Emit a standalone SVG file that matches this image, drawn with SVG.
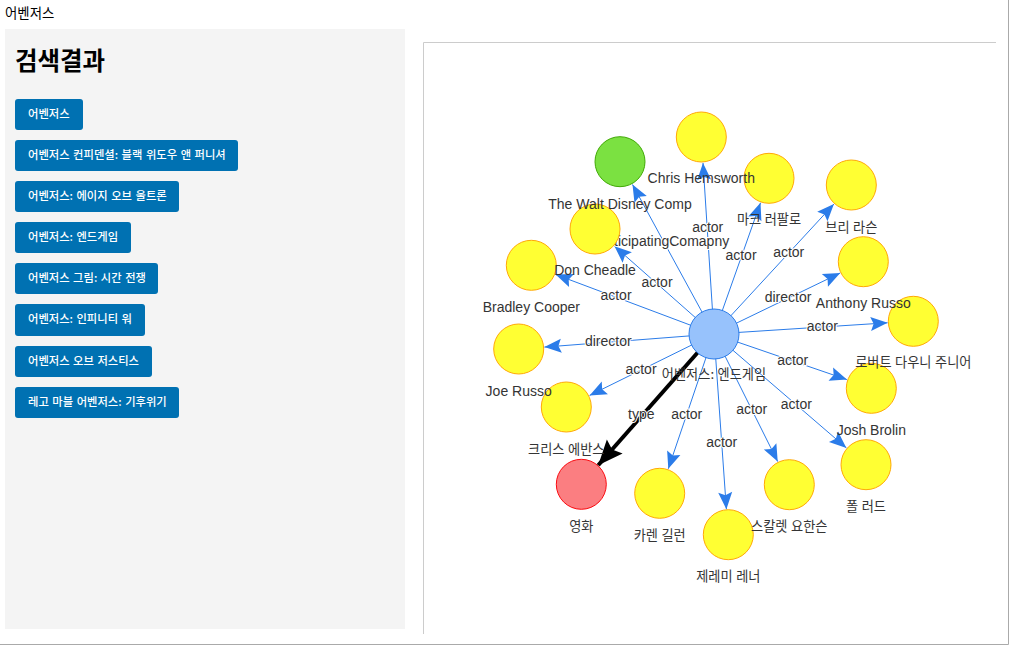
<svg xmlns="http://www.w3.org/2000/svg" width="1013" height="650" viewBox="0 0 1013 650">
<style>
text{font-family:"Liberation Sans","Noto Sans CJK KR",sans-serif}
.kr{font-family:"Noto Sans CJK KR",sans-serif}
.btn{fill:#0071b2}
.bt{font-family:"Noto Sans CJK KR",sans-serif;font-size:11.3px;font-weight:500;fill:#fff;word-spacing:1px}
.e{stroke:#2b7ce9;stroke-width:1;fill:none;marker-end:url(#a)}
.el{font-size:14px;fill:#343434;text-anchor:middle;stroke:#fff;stroke-width:2px;paint-order:stroke;stroke-linejoin:round}
.nl{font-size:14px;fill:#343434;text-anchor:middle}
.nk{font-family:"Noto Sans CJK KR",sans-serif;font-size:13.2px;word-spacing:.6px;fill:#343434;text-anchor:middle}
.y{fill:#ffff33;stroke:#ffa807;stroke-width:1}
</style>
<defs>
<marker id="a" markerUnits="userSpaceOnUse" markerWidth="18" markerHeight="16" refX="17" refY="7" orient="auto" overflow="visible"><path d="M0,0L17,7L0,14L3,7Z" fill="#2b7ce9"/></marker>
<marker id="b" markerUnits="userSpaceOnUse" markerWidth="26" markerHeight="22" refX="25" refY="10.5" orient="auto" overflow="visible"><path d="M0,0L25,10.5L0,21L4,10.5Z" fill="#000"/></marker>
</defs>
<rect width="1013" height="650" fill="#fff"/>
<path d="M1008.5,0V644.5H0" fill="none" stroke="#aaa"/>
<text x="5" y="18" class="kr" font-size="13.4" fill="#000">어벤저스</text>
<rect x="5" y="29" width="400" height="600" fill="#f4f4f4"/>
<text x="15" y="70" class="kr" font-size="24.5" font-weight="700" fill="#000">검색결과</text>
<g id="btn1"><rect class="btn" x="15" y="99" width="68" height="31" rx="3"/><text class="bt" x="28" y="118">어벤저스</text></g>
<g id="btn2"><rect class="btn" x="15" y="140" width="223" height="31" rx="3"/><text class="bt" x="28" y="159">어벤저스 컨피덴셜: 블랙 위도우 앤 퍼니셔</text></g>
<g id="btn3"><rect class="btn" x="15" y="181" width="164" height="31" rx="3"/><text class="bt" x="28" y="200">어벤저스: 에이지 오브 울트론</text></g>
<g id="btn4"><rect class="btn" x="15" y="222" width="116" height="31" rx="3"/><text class="bt" x="28" y="241">어벤저스: 엔드게임</text></g>
<g id="btn5"><rect class="btn" x="15" y="263" width="143" height="31" rx="3"/><text class="bt" x="28" y="282">어벤저스 그림: 시간 전쟁</text></g>
<g id="btn6"><rect class="btn" x="15" y="304" width="130" height="32" rx="3"/><text class="bt" x="28" y="323">어벤저스: 인피니티 워</text></g>
<g id="btn7"><rect class="btn" x="15" y="346" width="137" height="31" rx="3"/><text class="bt" x="28" y="365">어벤저스 오브 저스티스</text></g>
<g id="btn8"><rect class="btn" x="15" y="387" width="164" height="31" rx="3"/><text class="bt" x="28" y="406">레고 마블 어벤저스: 기후위기</text></g>
<path d="M996,42.5H423.5V634" fill="none" stroke="#ccc"/>
<g id="connectors">
<line class="e" x1="714" y1="334" x2="703" y2="162.9"/>
<line class="e" x1="714" y1="334" x2="632.5" y2="184.5"/>
<line class="e" x1="714" y1="334" x2="614.5" y2="246.2"/>
<line class="e" x1="714" y1="334" x2="555.6" y2="274.5"/>
<line class="e" x1="714" y1="334" x2="760.5" y2="202.8"/>
<line class="e" x1="714" y1="334" x2="833.9" y2="204.1"/>
<line class="e" x1="714" y1="334" x2="840.2" y2="273"/>
<line class="e" x1="714" y1="334" x2="887.6" y2="322.8"/>
<line class="e" x1="714" y1="334" x2="846.9" y2="379.6"/>
<line class="e" x1="714" y1="334" x2="846.4" y2="447.9"/>
<line class="e" x1="714" y1="334" x2="777.7" y2="461.6"/>
<line class="e" x1="714" y1="334" x2="726.4" y2="509.2"/>
<line class="e" x1="714" y1="334" x2="668.3" y2="468.8"/>
<line x1="714" y1="334" x2="598.2" y2="465.2" stroke="#000" stroke-width="4" marker-end="url(#b)"/>
<line class="e" x1="714" y1="334" x2="589.6" y2="395.4"/>
<line class="e" x1="714" y1="334" x2="544.4" y2="347.1"/>
<text class="el" x="707.7" y="231.5">actor</text>
<text class="el" x="660.7" y="245.5">ParticipatingComapny</text>
<text class="el" x="657" y="287">actor</text>
<text class="el" x="616" y="300.3">actor</text>
<text class="el" x="741" y="260.3">actor</text>
<text class="el" x="788.7" y="257.3">actor</text>
<text class="el" x="788" y="302.3">director</text>
<text class="el" x="822.3" y="331.3">actor</text>
<text class="el" x="792.7" y="365.3">actor</text>
<text class="el" x="796.3" y="409.3">actor</text>
<text class="el" x="751.7" y="414.3">actor</text>
<text class="el" x="721.7" y="447.3">actor</text>
<text class="el" x="686.7" y="418.7">actor</text>
<text class="el" x="641.3" y="419.3">type</text>
<text class="el" x="641" y="374.3">actor</text>
<text class="el" x="608.3" y="346.3">director</text>
</g>
<g id="n-center"><circle cx="714" cy="334" r="25" fill="#97c2fc" stroke="#2b7ce9"/><text class="nk" x="714" y="379">어벤저스: 엔드게임</text></g>
<g id="n-bradley"><circle class="y" cx="531.3" cy="265.3" r="25"/><text class="nl" x="531.3" y="312">Bradley Cooper</text></g>
<g id="n-cheadle"><circle class="y" cx="595" cy="229" r="25"/><text class="nl" x="595" y="275">Don Cheadle</text></g>
<g id="n-disney"><circle cx="620" cy="161.7" r="25" fill="#7be141" stroke="#41a906"/><text class="nl" x="620" y="209">The Walt Disney Comp</text></g>
<g id="n-ruffalo"><circle class="y" cx="769" cy="178.3" r="25"/><text class="nk" x="769" y="224">마크 러팔로</text></g>
<g id="n-hemsworth"><circle class="y" cx="701.3" cy="137" r="25"/><text class="nl" x="701.3" y="183">Chris Hemsworth</text></g>
<g id="n-larson"><circle class="y" cx="851.3" cy="185" r="25"/><text class="nk" x="851.3" y="232">브리 라슨</text></g>
<g id="n-brolin"><circle class="y" cx="871.3" cy="388.3" r="25"/><text class="nl" x="871.3" y="435">Josh Brolin</text></g>
<g id="n-downey"><circle class="y" cx="913.3" cy="321.3" r="25"/><text class="nk" x="913.3" y="367">로버트 다우니 주니어</text></g>
<g id="n-arusso"><circle class="y" cx="863.3" cy="261.7" r="25"/><text class="nl" x="863.3" y="308">Anthony Russo</text></g>
<g id="n-rudd"><circle class="y" cx="866" cy="464.7" r="25"/><text class="nk" x="866" y="511">폴 러드</text></g>
<g id="n-renner"><circle class="y" cx="728.3" cy="534.7" r="25"/><text class="nk" x="728.3" y="581">제레미 레너</text></g>
<g id="n-johansson"><circle class="y" cx="789.3" cy="484.7" r="25"/><text class="nk" x="789.3" y="531">스칼렛 요한슨</text></g>
<g id="n-gillan"><circle class="y" cx="659.7" cy="493.3" r="25"/><text class="nk" x="659.7" y="540">카렌 길런</text></g>
<g id="n-movie"><circle cx="581.3" cy="484.3" r="25" fill="#fb7e81" stroke="#fa0a10"/><text class="nk" x="581.3" y="531">영화</text></g>
<g id="n-evans"><circle class="y" cx="566.3" cy="407" r="25"/><text class="nk" x="566.3" y="454">크리스 에반스</text></g>
<g id="n-jrusso"><circle class="y" cx="518.7" cy="349" r="25"/><text class="nl" x="518.7" y="396">Joe Russo</text></g>
</svg>
